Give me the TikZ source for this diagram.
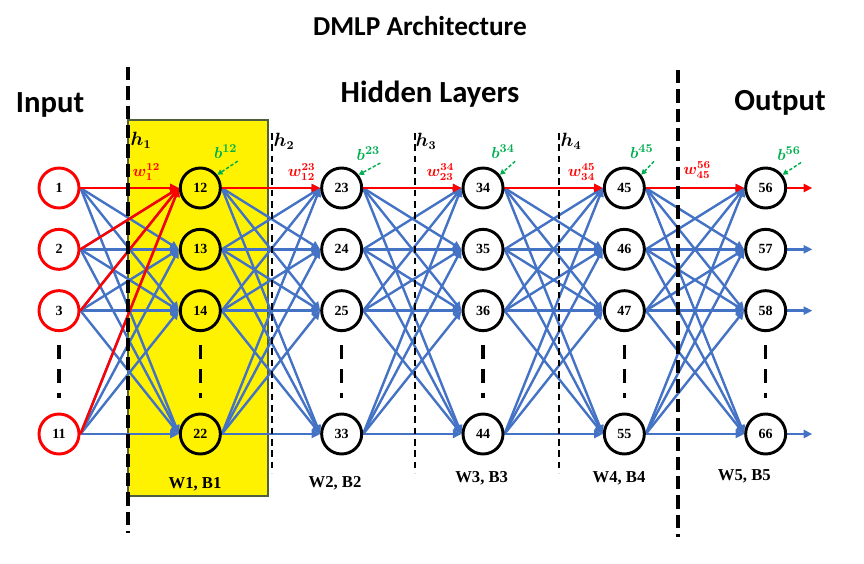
\documentclass[tikz,border=0pt]{standalone}
\usepackage{fontspec}
\usepackage{amsmath}
\usepackage{bm}
\setmainfont{Liberation Serif}
\newfontfamily\headfont{Carlito}
\usetikzlibrary{positioning,arrows.meta,backgrounds}

\definecolor{edgeblue}{RGB}{68,114,196}
\definecolor{biasgreen}{RGB}{0,176,80}
\definecolor{wred}{RGB}{255,0,0}
\definecolor{boxline}{RGB}{80,96,60}

\tikzset{
  neuron/.style={circle, draw=black, line width=2.2pt, fill=white,
    minimum size=30pt, inner sep=0pt, font=\fontsize{10.5}{12}\selectfont\bfseries},
  inneuron/.style={neuron, draw=wred},
  yneuron/.style={neuron, fill=yellow},
  conn/.style={draw=edgeblue, line width=1.8pt, -{Triangle[length=6.5pt,width=6pt]}},
  redconn/.style={conn, draw=wred},
  biasarrow/.style={draw=biasgreen, line width=1.1pt, dash pattern=on 2.5pt off 1.5pt,
    -{Triangle[length=4pt,width=4pt]}, shorten <=1pt},
  wlabel/.style={text=wred, inner sep=0.5pt, font=\fontsize{11.5}{12}\selectfont},
  blabel/.style={text=biasgreen, inner sep=1pt, font=\fontsize{13}{14}\selectfont},
  hlabel/.style={inner sep=1pt, font=\fontsize{13.5}{15}\selectfont},
  wblabel/.style={font=\fontsize{12.5}{14}\selectfont\bfseries},
  heading/.style={font=\headfont\bfseries\fontsize{23}{26}\selectfont, anchor=base},
  thickdash/.style={line width=2.3pt, dash pattern=on 10pt off 4.5pt},
  thindash/.style={line width=1.5pt, dash pattern=on 5pt off 3.5pt},
  vdots/.style={line width=2.3pt, dash pattern=on 10pt off 8pt, shorten <=10pt, shorten >=11pt}
}

\begin{document}
\begin{tikzpicture}[x=0.75pt, y=-0.75pt, node distance=46pt and 106pt, on grid]
  \useasboundingbox (0,0) rectangle (864,564);

  % Titles
  \node[font=\headfont\bfseries\fontsize{20.5}{24}\selectfont] (title) at (420,26) {DMLP Architecture};
  \node[heading] (input)  at (50,112)  {Input};
  \node[heading] (hidden) at (430,102) {Hidden Layers};
  \node[heading] (output) at (780,110) {Output};

  % Define nodes
  \node[inneuron]                   (n1)  at (59,188) {1};
  \node[inneuron, below=of n1]      (n2)  {2};
  \node[inneuron, below=of n2]      (n3)  {3};
  \node[inneuron, below=92.5pt of n3] (n11) {11};

  \node[yneuron, right=of n1]       (n12) {12};
  \node[yneuron, right=of n2]       (n13) {13};
  \node[yneuron, right=of n3]       (n14) {14};
  \node[yneuron, right=of n11]      (n22) {22};

  \node[neuron, right=of n12]       (n23) {23};
  \node[neuron, right=of n13]       (n24) {24};
  \node[neuron, right=of n14]       (n25) {25};
  \node[neuron, right=of n22]       (n33) {33};

  \node[neuron, right=of n23]       (n34) {34};
  \node[neuron, right=of n24]       (n35) {35};
  \node[neuron, right=of n25]       (n36) {36};
  \node[neuron, right=of n33]       (n44) {44};

  \node[neuron, right=of n34]       (n45) {45};
  \node[neuron, right=of n35]       (n46) {46};
  \node[neuron, right=of n36]       (n47) {47};
  \node[neuron, right=of n44]       (n55) {55};

  \node[neuron, right=of n45]       (n56) {56};
  \node[neuron, right=of n46]       (n57) {57};
  \node[neuron, right=of n47]       (n58) {58};
  \node[neuron, right=of n55]       (n66) {66};

  \coordinate[right=35pt of n56] (y56);
  \coordinate[right=35pt of n57] (y57);
  \coordinate[right=35pt of n58] (y58);
  \coordinate[right=35pt of n66] (y66);

  % Layer labels
  \node[hlabel] (h1) at (141,140) {$\bm{h_1}$};
  \node[hlabel] (h2) at (284,141) {$\bm{h_2}$};
  \node[hlabel] (h3) at (426,141) {$\bm{h_3}$};
  \node[hlabel] (h4) at (571,141) {$\bm{h_4}$};

  % Weights and biases
  \node[wlabel, left=40.5pt of n12, yshift=12pt] (w12) {$\bm{w^{12}_{1}}$};
  \node[wlabel, left=30pt of n23, yshift=12pt]   (w23) {$\bm{w^{23}_{12}}$};
  \node[wlabel, left=32pt of n34, yshift=12pt]   (w34) {$\bm{w^{34}_{23}}$};
  \node[wlabel, left=32pt of n45, yshift=12pt]   (w45) {$\bm{w^{45}_{34}}$};
  \node[wlabel, left=51.5pt of n56, yshift=13.5pt] (w56) {$\bm{w^{56}_{45}}$};

  \node[blabel, above=27pt of n12, xshift=19pt]   (b12) {$\bm{b^{12}}$};
  \node[blabel, above=25.5pt of n23, xshift=20pt] (b23) {$\bm{b^{23}}$};
  \node[blabel, above=27pt of n34, xshift=15pt]   (b34) {$\bm{b^{34}}$};
  \node[blabel, above=27pt of n45, xshift=13pt]   (b45) {$\bm{b^{45}}$};
  \node[blabel, above=26pt of n56, xshift=17.5pt] (b56) {$\bm{b^{56}}$};

  \draw[biasarrow] (b12.south east) -- (n12.38);
  \draw[biasarrow] (b23.south east) -- (n23.38);
  \draw[biasarrow] (b34.south east) -- (n34.38);
  \draw[biasarrow] (b45.south east) -- (n45.38);
  \draw[biasarrow] (b56.south east) -- (n56.38);

  \node[wblabel, below=38pt of n22, xshift=-4pt]  (wb1) {W1, B1};
  \node[wblabel, below=37pt of n33, xshift=-5pt]  (wb2) {W2, B2};
  \node[wblabel, below=33pt of n44, xshift=-1pt]  (wb3) {W3, B3};
  \node[wblabel, below=33pt of n55, xshift=-4pt]  (wb4) {W4, B4};
  \node[wblabel, below=32pt of n66, xshift=-16pt] (wb5) {W5, B5};

  \begin{scope}[on background layer]
    \fill[yellow, draw=boxline, line width=0.8pt] (128,120) rectangle (268,496);

    % Connect the nodes
    \foreach \s in {n1,n2,n3,n11}{\foreach \t in {n12,n13,n14,n22}{\draw[conn] (\s.east) -- (\t.west);}}
    \foreach \s in {n12,n13,n14,n22}{\foreach \t in {n23,n24,n25,n33}{\draw[conn] (\s.east) -- (\t.west);}}
    \foreach \s in {n23,n24,n25,n33}{\foreach \t in {n34,n35,n36,n44}{\draw[conn] (\s.east) -- (\t.west);}}
    \foreach \s in {n34,n35,n36,n44}{\foreach \t in {n45,n46,n47,n55}{\draw[conn] (\s.east) -- (\t.west);}}
    \foreach \s in {n45,n46,n47,n55}{\foreach \t in {n56,n57,n58,n66}{\draw[conn] (\s.east) -- (\t.west);}}
    \draw[conn] (n57.east) -- (y57);
    \draw[conn] (n58.east) -- (y58);
    \draw[conn] (n66.east) -- (y66);

    \foreach \s in {n1,n2,n3,n11}{\draw[redconn] (\s.east) -- (n12.west);}
    \draw[redconn] (n12.east) -- (n23.west);
    \draw[redconn] (n23.east) -- (n34.west);
    \draw[redconn] (n34.east) -- (n45.west);
    \draw[redconn] (n45.east) -- (n56.west);
    \draw[redconn] (n56.east) -- (y56);

    % Separators
    \draw[thickdash] (128,67) -- (128,533);
    \draw[thickdash] (678,70) -- (678,537);
    \draw[thindash] (272,133) -- (272,473);
    \draw[thindash] (415,133) -- (415,473);
    \draw[thindash] (559,133) -- (559,473);
  \end{scope}

  % Skipped rows
  \draw[vdots] (n3.south)  -- (n11.north);
  \draw[vdots] (n14.south) -- (n22.north);
  \draw[vdots] (n25.south) -- (n33.north);
  \draw[vdots] (n36.south) -- (n44.north);
  \draw[vdots] (n47.south) -- (n55.north);
  \draw[vdots] (n58.south) -- (n66.north);

\end{tikzpicture}
\end{document}
